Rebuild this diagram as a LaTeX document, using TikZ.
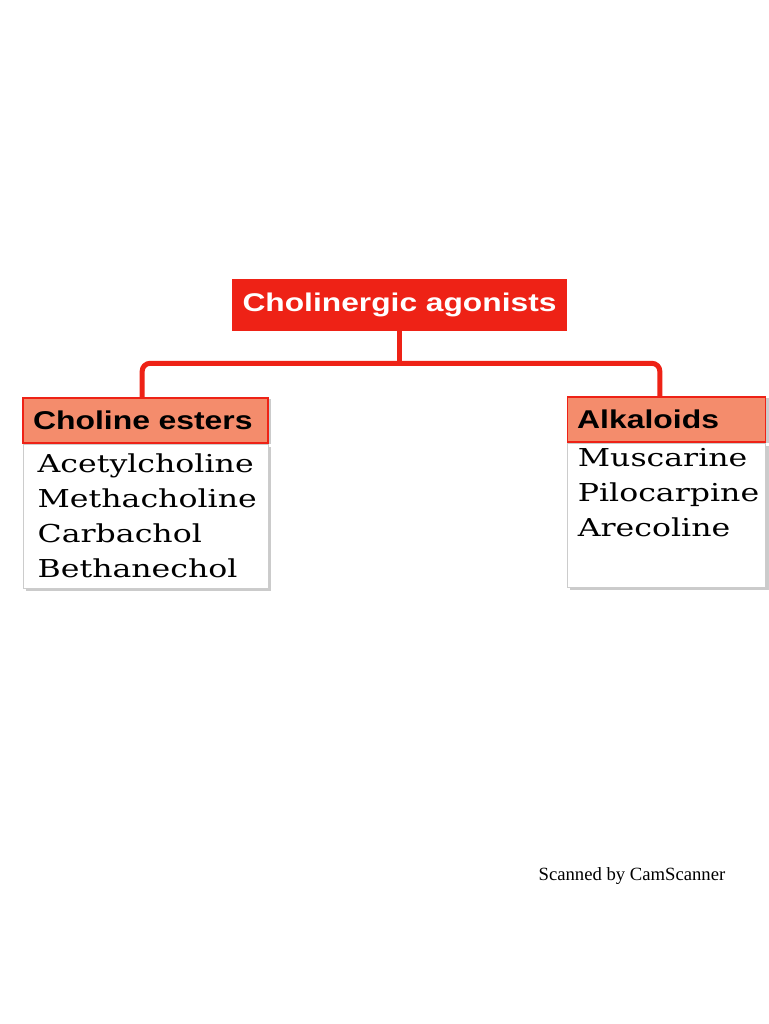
\documentclass[tikz,border=0pt]{standalone}
\usepackage{fontspec}
\usetikzlibrary{positioning,shadows}
\newfontfamily\headfont[FakeStretch=1.24]{Liberation Sans}
\newfontfamily\listfont[FakeStretch=1.28]{DejaVu Serif}
\newfontfamily\scanfont{Liberation Serif}
\definecolor{agred}{RGB}{238,34,22}
\definecolor{headfill}{RGB}{244,140,108}

\begin{document}
\begin{tikzpicture}[x=0.75pt, y=-0.75pt,
    title/.style={fill=agred, text=white, font=\headfont\bfseries\fontsize{19.2}{23}\selectfont, minimum width=251pt, minimum height=39pt},
    head/.style={draw=agred, fill=headfill, line width=0.8pt, font=\headfont\bfseries\fontsize{19.3}{22}\selectfont, minimum height=33.75pt, align=left, inner xsep=7.5pt, drop shadow={shadow xshift=2pt, shadow yshift=-1pt, fill=black!40}},
    listbox/.style={draw=black!20, fill=white, line width=0.6pt, font=\listfont\fontsize{18.5}{26.25}\selectfont, align=left, minimum height=108pt, inner xsep=8pt, drop shadow={shadow xshift=2pt, shadow yshift=-2pt, fill=black!40}},
    link/.style={agred, line width=3.75pt, rounded corners=6pt}]
    \useasboundingbox[fill=white] (0,0) rectangle (768,1024);
    \node[title] (agonists) at (399.5,305) {Cholinergic agonists};
    \node[head, text width=168.75pt] (esters) at (145.5,420.5) {Choline esters};
    \node[listbox, text width=161.75pt, inner xsep=11pt, below=0pt of esters] (esterlist) {Acetylcholine\\Methacholine\\Carbachol\\Bethanechol};
    \node[head, text width=134pt] (alkaloids) at (666.5,419.5) {Alkaloids};
    \node[listbox, text width=133pt, below=0pt of alkaloids] (alkalist) {Muscarine\\Pilocarpine\\Arecoline\\ \strut};
    \node[font=\scanfont\fontsize{14}{16}\selectfont] (scan) at (632,876) {Scanned by CamScanner};
    % tree connectors
    \coordinate[below=24pt of agonists.south] (fork);
    \draw[link] ([xshift=-2.5pt]esters.north) |- (fork) -| ([xshift=-5pt]alkaloids.north);
    \draw[link] (agonists.south) -- (fork);
\end{tikzpicture}
\end{document}
